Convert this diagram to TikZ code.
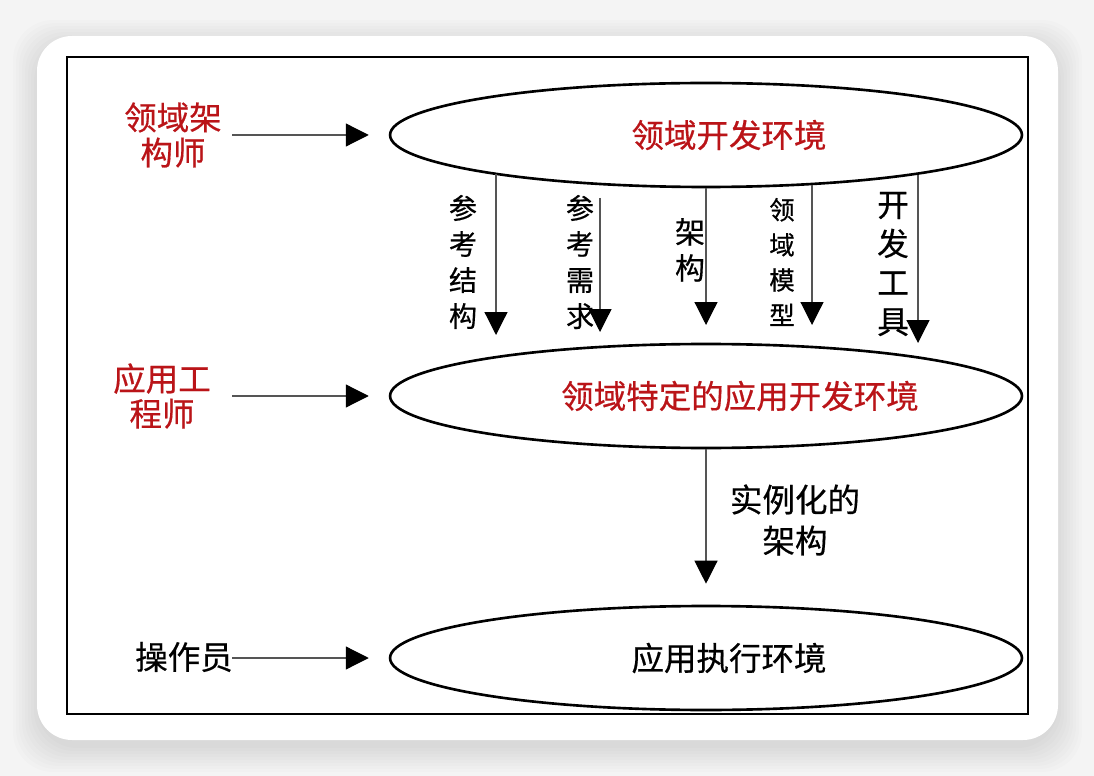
\documentclass[tikz,border=0pt]{standalone}
\usepackage{fontspec}
\setmainfont{Noto Sans CJK SC}[FakeBold=0.5]
\usetikzlibrary{arrows.meta, shapes.geometric}
\definecolor{cred}{HTML}{BA1418}
\definecolor{cline}{HTML}{555555}
\definecolor{cback}{HTML}{F4F4F4}
\tikzset{
  every picture/.style={line width=0.8pt},
  env/.style={draw=black, ellipse, line width=1.5pt, minimum width=12.64cm, minimum height=2.08cm, inner sep=0pt},
  envtext/.style={font=\fontsize{18.5}{22}\selectfont, text=#1},
  envtext/.default=black,
  role/.style={align=center, inner sep=0pt, font=\fontsize{18.5}{20}\selectfont},
  vlab/.style={align=center, inner sep=0pt},
  arrow/.style={-{Triangle[length=0.46cm, width=0.46cm, color=black]}, draw=cline, line width=0.7pt},
}

\begin{document}
\begin{tikzpicture}[x=0.02cm, y=-0.02cm]
  \useasboundingbox (0,0) rectangle (1094,776);
  \fill[cback] (0,0) rectangle (1094,776);
  % card and its soft shadow
  \foreach \s in {24,21,...,0} {
    \fill[black, opacity=0.012, rounded corners=0.8cm] (37-\s,36-\s+8) rectangle (1058+\s,740+\s+8);
  }
  \fill[white, rounded corners=0.7cm] (37,36) rectangle (1058,740);
  \draw[line width=1.4pt] (67,57) rectangle (1028,714);

  \node[env, label={[envtext=cred, xshift=0.46cm]center:领域开发环境}] (dev) at (706,135) {};
  \node[env, label={[envtext=cred, xshift=0.68cm]center:领域特定的应用开发环境}] (app) at (706,396) {};
  \node[env, label={[envtext, xshift=0.46cm]center:应用执行环境}] (run) at (706,658) {};

  \node[role, text=cred] (l1) at (173,135) {领域架\\构师};
  \node[role, text=cred] (l2) at (162,396) {应用工\\程师};
  \node[role] (l3) at (184,657) {操作员};
  \foreach \i/\y in {1/135, 2/396, 3/658} {\coordinate (s\i) at (232,\y);}
  \draw[arrow, shorten >=0.4cm] (s1) -- (dev.west);
  \draw[arrow, shorten >=0.4cm] (s2) -- (app.west);
  \draw[arrow, shorten >=0.4cm] (s3) -- (run.west);

  \coordinate (a2) at (600,198);
  \coordinate (t1) at (496,335);
  \coordinate (t2) at (600,332);
  \coordinate (t3) at (706,325);
  \coordinate (t4) at (812,325);
  \coordinate (t5) at (918,343);
  \draw[arrow] (t1 |- dev.190.5) -- (t1);
  \draw[arrow] (a2) -- (t2);
  \draw[arrow] (dev.south) -- (t3);
  \draw[arrow] (t4 |- dev.335.2) -- (t4);
  \draw[arrow] (t5 |- dev.349.7) -- (t5);
  \node[vlab, font=\fontsize{16}{20.5}\selectfont] (r1) at (463,262) {参\\考\\结\\构};
  \node[vlab, font=\fontsize{16}{20.5}\selectfont] (r2) at (580,262) {参\\考\\需\\求};
  \node[vlab, font=\fontsize{17}{20.5}\selectfont] (r3) at (690,250) {架\\构};
  \node[vlab, font=\fontsize{14.5}{20}\selectfont] (r4) at (782,262) {领\\域\\模\\型};
  \node[vlab, font=\fontsize{18}{22.2}\selectfont] (r5) at (893,264) {开\\发\\工\\具};

  \draw[arrow, shorten >=0.42cm] (app.south) -- (run.north);
  \node[role, font=\fontsize{18.5}{23.3}\selectfont] (inst) at (795,520) {实例化的\\架构};
\end{tikzpicture}
\end{document}
